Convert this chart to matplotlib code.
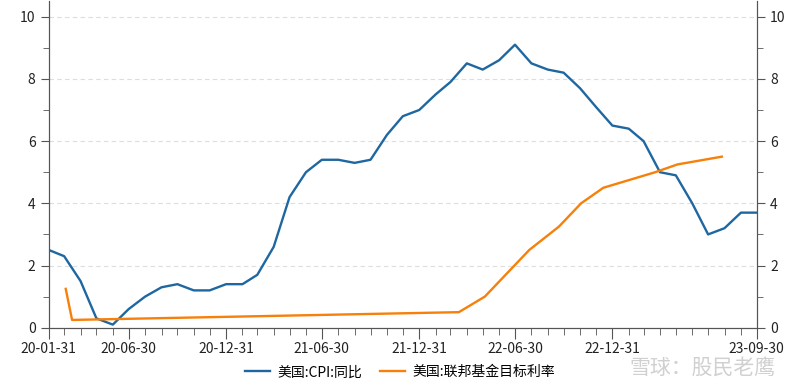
import matplotlib
matplotlib.use("Agg")
import matplotlib.pyplot as plt
import matplotlib.dates as mdates
import pandas as pd

plt.rcParams['font.family'] = ['Noto Sans CJK SC', 'DejaVu Sans']

# US CPI YoY, monthly (month end)
cpi_dates = pd.date_range("2020-01-31", "2023-09-30", freq="ME")
cpi_values = [2.5, 2.3, 1.5, 0.3, 0.1, 0.6, 1.0, 1.3, 1.4, 1.2, 1.2, 1.4,
              1.4, 1.7, 2.6, 4.2, 5.0, 5.4, 5.4, 5.3, 5.4, 6.2, 6.8, 7.0,
              7.5, 7.9, 8.5, 8.3, 8.6, 9.1, 8.5, 8.3, 8.2, 7.7, 7.1, 6.5,
              6.4, 6.0, 5.0, 4.9, 4.0, 3.0, 3.2, 3.7, 3.7]

# Fed funds target rate (upper bound), at FOMC decision dates
fed_dates = pd.to_datetime(["2020-03-03", "2020-03-15", "2022-03-16", "2022-05-04",
                            "2022-06-15", "2022-07-27", "2022-09-21", "2022-11-02",
                            "2022-12-14", "2023-02-01", "2023-03-22", "2023-05-03",
                            "2023-07-26"])
fed_values = [1.25, 0.25, 0.5, 1.0, 1.75, 2.5, 3.25, 4.0, 4.5, 4.75, 5.0, 5.25, 5.5]

label_dates = pd.to_datetime(["2020-01-31", "2020-06-30", "2020-12-31", "2021-06-30",
                              "2021-12-31", "2022-06-30", "2022-12-31", "2023-09-30"])

fig = plt.figure(figsize=(8, 3.86), dpi=100)
ax = fig.add_axes([0.061, 0.151, 0.885, 0.846])
ax2 = ax.twinx()

l1, = ax.plot(cpi_dates, cpi_values, color='#1f67a0', lw=1.7, label='美国:CPI:同比')
l2, = ax.plot(fed_dates, fed_values, color='#f7800a', lw=1.7, label='美国:联邦基金目标利率')

for a in (ax, ax2):
    a.set_ylim(0, 10.5)
    a.set_yticks([0, 2, 4, 6, 8, 10])
    a.set_yticks([1, 3, 5, 7, 9], minor=True)
    a.tick_params(axis='y', which='major', length=6, color='#555555', labelsize=10, labelcolor='#222222')
    a.tick_params(axis='y', which='minor', length=4, color='#555555')
    a.spines['top'].set_visible(False)
    for s in a.spines.values():
        s.set_color('#555555')

ax.set_xlim(cpi_dates[0], cpi_dates[-1])
ax.set_xticks(label_dates)
ax.xaxis.set_major_formatter(mdates.DateFormatter('%y-%m-%d'))
ax.set_xticks(cpi_dates, minor=True)
ax.tick_params(axis='x', which='major', length=8, color='#555555', labelsize=10, labelcolor='#222222', pad=2)
ax.tick_params(axis='x', which='minor', length=5, color='#555555')
ax.grid(axis='y', which='major', linestyle=(0, (4, 3)), color='#dddddd', lw=0.8)
ax.set_axisbelow(True)

fig.legend(handles=[l1, l2], loc='lower center', bbox_to_anchor=(0.5, -0.015), ncol=2,
           frameon=False, fontsize=10, handlelength=1.8, handletextpad=0.5, columnspacing=1.3)

fig.text(0.97, 0.02, '雪球：股民老鹰', ha='right', va='bottom', fontsize=15,
         color='#d0d0d0', zorder=0)

fig.savefig('out.png', dpi=100)
